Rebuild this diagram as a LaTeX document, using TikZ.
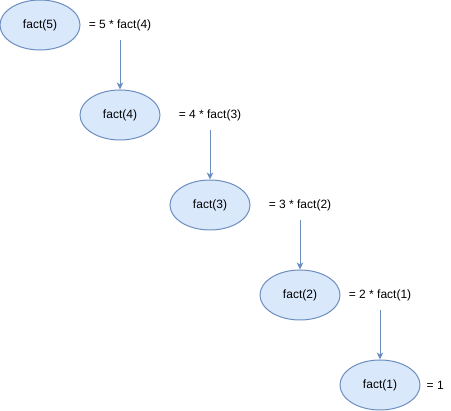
\documentclass[tikz,border=0pt]{standalone}
\usepackage{fontspec}
\setmainfont{Liberation Sans}
\usepackage{tikz}
\usetikzlibrary{arrows.meta,positioning,shapes.geometric}
\definecolor{callfill}{HTML}{DAE8FC}
\definecolor{callline}{HTML}{6C8EBF}
\tikzset{
>={Stealth[length=7pt,width=6.5pt,inset=2pt]},
  call/.style={
    ellipse,
    draw=callline, line width=1pt,
    fill=callfill,
    minimum width=80pt,
    minimum height=50pt,
    inner sep=0pt,
    font=\fontsize{12}{14}\selectfont},
  result/.style={
    inner sep=0pt,
    minimum height=30pt,
    font=\fontsize{12}{14}\selectfont},
  line/.style={draw=callline, line width=1pt, ->},
}
\begin{document}
\begin{tikzpicture}[x=1pt,y=-1pt]

    \useasboundingbox (0,0) rectangle (451,411);

    \foreach \n/\x/\y in {5/40/25, 4/120/115, 3/210/205, 2/300/295, 1/380/385}
        \node[call] (f\n) at (\x,\y) {fact(\n)};

    \foreach \n/\m in {5/4, 4/3, 3/2, 2/1} {
        \node[result] (r\n) at (f\m |- f\n) {= \n{} * fact(\m)};
        \draw[line] (r\n) -- (f\m);
    }

    \node[result, right=6pt of f1] (r1) {= 1};
  \end{tikzpicture}
\end{document}
